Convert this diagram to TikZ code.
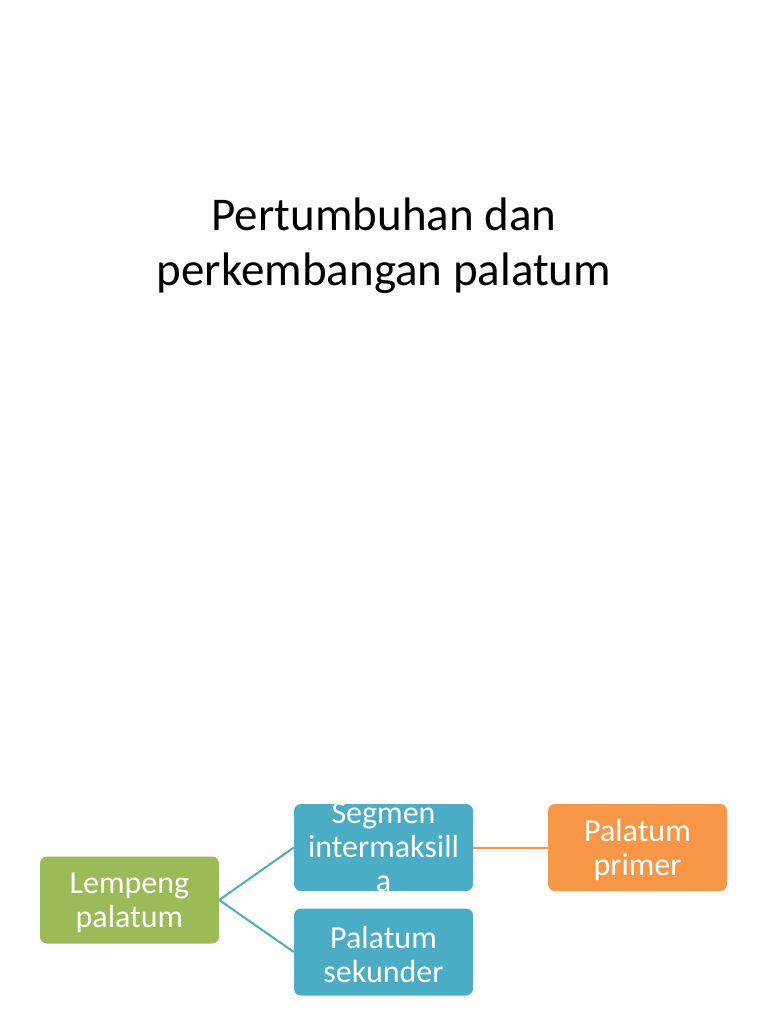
\documentclass[tikz,border=0pt]{standalone}
\usepackage{fontspec}
\setmainfont{Carlito}
\definecolor{cgreen}{HTML}{9BBB59}
\definecolor{cblue}{HTML}{4BACC6}
\definecolor{corange}{HTML}{F79646}
\begin{document}
\begin{tikzpicture}[x=1pt,y=-1pt,
  box/.style={rectangle, rounded corners=7pt, minimum width=179pt, minimum height=87pt, inner sep=0pt},
  txt/.style={text=white, align=center, inner sep=0pt, font=\fontsize{32}{34}\selectfont},
  conn/.style={line width=2pt}]
\useasboundingbox[fill=white] (0,0) rectangle (768,1024);
\node[align=center, font=\fontsize{47}{55}\selectfont, inner sep=0pt] (title) at (384,246) {Pertumbuhan dan\\perkembangan palatum};
\node[box, fill=cgreen, label={[txt, yshift=-3pt]center:Lempeng\\palatum}] (lemp) at (129.5,900) {};
\node[box, fill=cblue, label={[txt]center:Segmen\\intermaksill\\a}] (seg) at (383.5,847.5) {};
\node[box, fill=cblue, label={[txt, yshift=-2pt]center:Palatum\\sekunder}] (sek) at (383.5,952) {};
\node[box, fill=corange, label={[txt, yshift=-2pt]center:Palatum\\primer}] (prim) at (637.5,847.5) {};
\draw[conn, cblue] (lemp.east) -- (seg.west);
\draw[conn, cblue] (lemp.east) -- (sek.west);
\draw[conn, corange] (seg.east) -- (prim.west);
\end{tikzpicture}
\end{document}
